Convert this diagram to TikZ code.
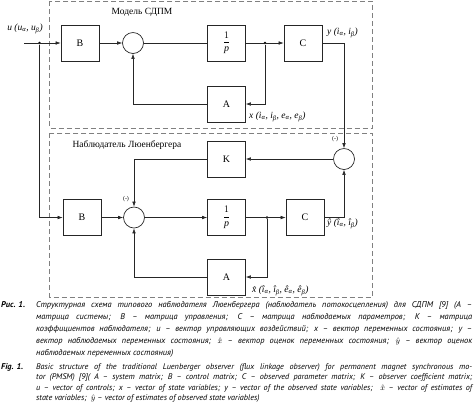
\documentclass[tikz,border=0pt]{standalone}
\usepackage{fontspec}
\setmainfont{Liberation Serif}
\newfontfamily\capfont{PT Sans}
\usetikzlibrary{arrows.meta}

\tikzset{
  block/.style={draw=black!85, line width=0.7pt, minimum width=38bp, minimum height=36bp, inner sep=0pt, font=\fontsize{10}{12}\selectfont},
  summer/.style={draw=black!85, line width=0.7pt, circle, minimum size=21bp, inner sep=0pt},
  frame/.style={draw=black!50, line width=0.9pt, dash pattern=on 5bp off 3bp},
  link/.style={line width=0.6pt, draw=black!85},
  arr/.style={link, -{Latex[length=5bp,width=3.6bp]}},
  branch/.style={circle, fill=black, inner sep=0pt, minimum size=2.6bp},
  sig/.style={font=\fontsize{9.5}{11}\selectfont\itshape, inner sep=0pt},
  minus/.style={font=\fontsize{6}{7}\selectfont, inner sep=0pt},
  title/.style={font=\fontsize{9.5}{11}\selectfont, inner sep=0pt},
  caplab/.style={font=\capfont\bfseries\itshape\fontsize{8.4}{11.3}\selectfont, inner sep=0pt},
  captext/.style={font=\capfont\itshape\fontsize{8.4}{12.2}\selectfont, inner sep=0pt, text width=436bp, align=justify},
  captexten/.style={captext, font=\capfont\itshape\fontsize{8.2}{10.6}\selectfont}
}
\newcommand{\frp}{$\displaystyle\frac{1}{\textit{p}}$}
\newcommand{\hatv}[1]{\smash{$\hat{#1}$}}

\begin{document}
\begin{tikzpicture}[x=1bp,y=-1bp]
\useasboundingbox (0,0) rectangle (474,402);
% frames
\draw[frame] (49.5,1) rectangle (372,128);
\draw[frame] (49.5,133) rectangle (372,297);
\node[title] (tmodel) at (142,12) {Модель СДПМ};
\node[title] (tobs) at (127,145) {Наблюдатель Люенбергера};

% motor model
\node[block] (B1) at (80,43) {B};
\node[summer] (S1) at (133,43) {};
\node[block] (P1) at (226.5,43) {\frp};
\node[block] (C1) at (303,43) {C};
\node[block] (A1) at (226.5,104) {A};
\coordinate (uin) at (24,43);
\node[branch] (d1) at (39.5,43) {};
\node[branch] (d2) at (265,43) {};

% observer
\node[summer] (S3) at (344,159) {};
\node[block] (K) at (226.5,159) {K};
\node[block] (B2) at (82,217.5) {B};
\node[summer] (S2) at (134,217.5) {};
\node[block] (P2) at (226.5,217.5) {\frp};
\node[block] (C2) at (305,217.5) {C};
\node[block] (A2) at (226.5,277) {A};
\node[branch] (d3) at (267,217.5) {};

% signals
\node[sig] (lu) at (25,29) {u (u\textsubscript{α}, u\textsubscript{β})};
\node[sig, anchor=west] (ly) at (327,33) {y (i\textsubscript{α}, i\textsubscript{β})};
\node[sig, anchor=west] (lx) at (249,117) {x (i\textsubscript{α}, i\textsubscript{β}, e\textsubscript{α}, e\textsubscript{β})};
\node[sig, anchor=west] (lyh) at (327,224) {\^{y} (\^{\i}\textsubscript{α}, \^{\i}\textsubscript{β})};
\node[sig, anchor=west] (lxh) at (252,291) {\^{x} (\^{\i}\textsubscript{α}, \^{\i}\textsubscript{β}, \^{e}\textsubscript{α}, \^{e}\textsubscript{β})};
\node[minus] (m1) at (126,199) {(-)};
\node[minus] (m2) at (335,139) {(-)};

% connectors, model
\draw[arr] (uin) -- (B1);
\draw[arr] (B1) -- (S1);
\draw[link] (S1) -- (P1);
\draw[arr] (P1) -- (C1);
\draw[arr] (d2) |- (A1.east);
\draw[arr] (A1.west) -| (S1.south);
\draw[arr] (C1.east) -| (S3.north);

% connectors, observer
\draw[arr] (d1) |- (B2.west);
\draw[arr] (S3) -- (K);
\draw[arr] (K.west) -| (S2.north);
\draw[arr] (B2) -- (S2);
\draw[arr] (S2) -- (P2);
\draw[arr] (P2) -- (C2);
\draw[arr] (d3) |- (A2.east);
\draw[arr] (A2.west) -| (S2.south);
\draw[arr] (C2.east) -| (S3.south);

% caption
\node[caplab, anchor=north west] (lru) at (1,301) {Рис. 1.};
\node[captext, anchor=north west] (cru) at (36,301) {Структурная схема типового наблюдателя Люенбергера (наблюдатель потокосцепления) для СДПМ [9] (A –\linebreak
матрица системы; B – матрица управления; C – матрица наблюдаемых параметров; K – матрица\linebreak
коэффициентов наблюдателя; u – вектор управляющих воздействий; x – вектор переменных состояния; y –\linebreak
вектор наблюдаемых переменных состояния; \hatv{x} – вектор оценок переменных состояния; \hatv{y} – вектор оценок\linebreak
наблюдаемых переменных состояния)};
\node[caplab, anchor=north west] (len) at (1,363) {Fig. 1.};
\node[captexten, anchor=north west] (cen) at (36,363) {Basic structure of the traditional Luenberger observer (flux linkage observer) for permanent magnet synchronous mo-\linebreak
tor (PMSM) [9]( A – system matrix; B – control matrix; C – observed parameter matrix; K – observer coefficient matrix;\linebreak
u – vector of controls; x – vector of state variables; y – vector of the observed state variables; \ \hatv{x} – vector of estimates of\linebreak
state variables; \ \hatv{y} – vector of estimates of observed state variables)};
\end{tikzpicture}
\end{document}
